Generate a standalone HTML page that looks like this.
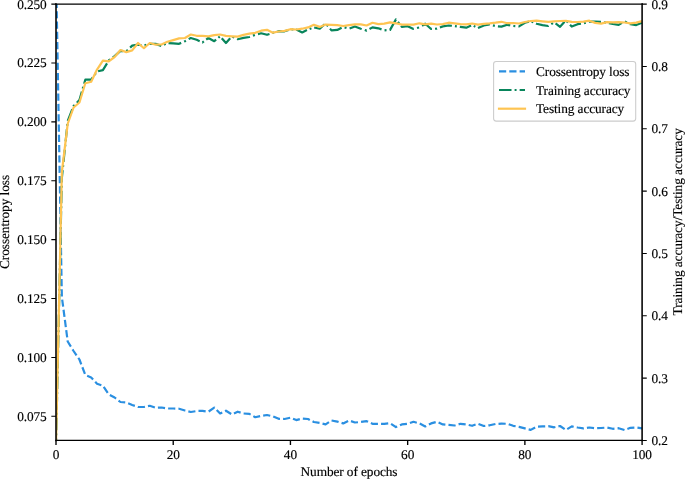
<!DOCTYPE html>
<html><head><meta charset="utf-8"><title>Training curves</title>
<style>html,body{margin:0;padding:0;background:#fff;}svg{display:block;}text{font-family:"Liberation Serif","Times New Roman",serif;font-size:13.33px;fill:#000;text-rendering:geometricPrecision;letter-spacing:-0.1px;stroke:#000;stroke-width:0.15px;}</style></head><body>
<svg width="685" height="479" viewBox="0 0 685 479">
<rect width="685" height="479" fill="#fff"/>
<defs><clipPath id="ax"><rect x="56.0" y="4.1" width="586.1" height="436.34999999999997"/></clipPath></defs>
<g clip-path="url(#ax)" fill="none" stroke-linejoin="round">
<polyline points="56.00,-30.00 61.86,297.00 67.72,341.50 73.58,351.00 79.44,359.50 85.31,375.00 91.17,377.50 97.03,383.75 102.89,385.75 108.75,394.50 114.61,397.50 120.47,402.00 126.33,402.50 132.19,405.00 138.05,407.00 143.92,407.00 149.78,405.75 155.64,407.75 161.50,407.50 167.36,408.50 173.22,408.50 179.08,408.75 184.94,410.50 190.80,412.00 196.66,411.00 202.53,410.90 208.39,411.70 214.25,407.60 220.11,413.50 225.97,410.70 231.83,414.40 237.69,411.70 243.55,413.50 249.41,413.90 255.27,417.20 261.13,415.90 267.00,415.00 272.86,416.30 278.72,418.80 284.58,419.00 290.44,417.70 296.30,420.10 302.16,418.50 308.02,419.00 313.88,422.00 319.75,422.90 325.61,424.40 331.47,420.50 337.33,421.60 343.19,423.40 349.05,420.50 354.91,422.50 360.77,422.00 366.63,421.20 372.49,423.80 378.36,423.80 384.22,423.80 390.08,423.10 395.94,427.10 401.80,424.40 407.66,423.80 413.52,421.80 419.38,423.40 425.24,426.40 431.10,423.40 436.96,421.80 442.83,424.40 448.69,424.90 454.55,425.50 460.41,423.80 466.27,424.40 472.13,425.80 477.99,423.70 483.85,426.00 489.71,425.30 495.57,424.00 501.44,423.60 507.30,423.80 513.16,425.80 519.02,426.90 524.88,428.40 530.74,429.90 536.60,426.60 542.46,426.40 548.32,426.20 554.18,427.30 560.05,426.00 565.91,429.90 571.77,426.40 577.63,427.50 583.49,428.40 589.35,427.50 595.21,428.20 601.07,428.00 606.93,427.50 612.79,428.80 618.66,428.20 624.52,430.00 630.38,427.80 636.24,427.50 642.10,428.40" stroke="#2a8fe1" stroke-width="2.2" stroke-dasharray="7.2 3.1"/>
<polyline points="56.00,445.00 61.86,178.00 67.72,121.00 73.58,106.00 79.44,100.00 84.13,83.76" stroke="#08855b" stroke-width="2.2" stroke-dasharray="12.5 3.1 1.95 3.1" stroke-dashoffset="5.94"/>
<polyline points="84.13,83.76 85.31,79.70 91.17,79.70 97.03,71.50 102.89,70.10 108.75,60.50 114.61,56.10 120.47,50.90 126.33,51.40 130.14,47.63" stroke="#08855b" stroke-width="2.2" stroke-dasharray="12.88 3.19 2.01 3.19"/>
<polyline points="130.14,47.63 132.19,45.60 138.05,44.70 143.92,45.60 149.78,43.90 155.64,43.90 161.50,46.00 167.36,43.00 168.53,43.06" stroke="#08855b" stroke-width="2.2" stroke-dasharray="12.32 3.05 1.92 3.05"/>
<polyline points="168.53,43.06 173.22,43.30 179.08,43.80 184.94,41.20 188.69,39.15" stroke="#08855b" stroke-width="2.2" stroke-dasharray="12.87 3.19 2.01 3.19"/>
<polyline points="188.69,39.15 190.80,38.00 196.66,39.80 202.53,42.40 208.39,38.00 214.25,41.20 220.11,36.30 221.75,38.18" stroke="#08855b" stroke-width="2.2" stroke-dasharray="11.83 2.93 1.85 2.93"/>
<polyline points="221.75,38.18 225.97,43.00 231.83,36.40 237.10,38.92" stroke="#08855b" stroke-width="2.2" stroke-dasharray="12.76 3.16 1.99 3.16"/>
<polyline points="237.10,38.92 237.69,39.20 243.55,37.90 249.41,37.00 255.27,34.70 257.97,34.06" stroke="#08855b" stroke-width="2.2" stroke-dasharray="13.11 3.25 2.04 3.25"/>
<polyline points="257.97,34.06 261.13,33.30 267.00,34.80 272.86,32.80 278.72,31.20 284.58,31.30 290.44,29.50 296.30,29.50 302.16,32.50 308.02,29.50 313.88,27.40 314.18,27.46" stroke="#08855b" stroke-width="2.2" stroke-dasharray="11.93 2.96 1.86 2.96"/>
<polyline points="314.18,27.46 319.75,28.70 325.61,23.40 330.00,28.65" stroke="#08855b" stroke-width="2.2" stroke-dasharray="12.38 3.07 1.93 3.07"/>
<polyline points="330.00,28.65 331.47,30.40 337.33,29.90 343.19,26.90 349.05,28.70 354.91,26.40 360.77,28.70 366.63,30.60 369.50,29.03" stroke="#08855b" stroke-width="2.2" stroke-dasharray="12.99 3.22 2.03 3.22"/>
<polyline points="369.50,29.03 372.49,27.40 378.36,28.30 384.22,30.30 389.67,29.93" stroke="#08855b" stroke-width="2.2" stroke-dasharray="12.71 3.15 1.98 3.15"/>
<polyline points="389.67,29.93 390.08,29.90 395.94,19.40 401.04,25.84" stroke="#08855b" stroke-width="2.2" stroke-dasharray="12.50 3.10 1.95 3.10"/>
<polyline points="401.04,25.84 401.80,26.80 407.66,26.20 413.52,29.00 419.38,27.40 422.02,25.73" stroke="#08855b" stroke-width="2.2" stroke-dasharray="13.81 3.42 2.15 3.42"/>
<polyline points="422.02,25.73 425.24,23.70 431.10,29.00 436.96,28.60 439.90,27.50" stroke="#08855b" stroke-width="2.2" stroke-dasharray="12.54 3.11 1.96 3.11"/>
<polyline points="439.90,27.50 442.83,26.40 448.69,25.50 454.55,26.00 459.82,26.81" stroke="#08855b" stroke-width="2.2" stroke-dasharray="12.28 3.04 1.91 3.04"/>
<polyline points="459.82,26.81 460.41,26.90 466.27,27.70 472.13,25.10 477.99,28.00" stroke="#08855b" stroke-width="2.2" stroke-dasharray="11.78 2.92 1.84 2.92"/>
<polyline points="477.99,28.00 483.85,25.50 489.71,24.50 495.57,26.10 497.92,26.30" stroke="#08855b" stroke-width="2.2" stroke-dasharray="12.56 3.11 1.96 3.11"/>
<polyline points="497.92,26.30 501.44,26.60 507.30,24.80 513.16,26.00 518.43,26.36" stroke="#08855b" stroke-width="2.2" stroke-dasharray="12.67 3.14 1.98 3.14"/>
<polyline points="518.43,26.36 519.02,26.40 524.88,22.70 530.74,21.20 536.02,23.54" stroke="#08855b" stroke-width="2.2" stroke-dasharray="11.71 2.90 1.83 2.90"/>
<polyline points="536.02,23.54 536.60,23.80 542.46,25.10 548.32,26.00 554.18,22.30 555.59,23.38" stroke="#08855b" stroke-width="2.2" stroke-dasharray="12.88 3.19 2.01 3.19"/>
<polyline points="555.59,23.38 560.05,26.80 565.91,20.20 570.01,24.68" stroke="#08855b" stroke-width="2.2" stroke-dasharray="12.42 3.08 1.94 3.08"/>
<polyline points="570.01,24.68 571.77,26.60 577.63,24.20 583.49,23.40 589.35,21.50 595.21,21.70 601.07,21.80 606.93,22.80 608.87,23.20" stroke="#08855b" stroke-width="2.2" stroke-dasharray="12.31 3.05 1.92 3.05"/>
<polyline points="608.87,23.20 612.79,24.00 618.66,24.90 624.52,21.30 629.91,23.97" stroke="#08855b" stroke-width="2.2" stroke-dasharray="13.82 3.43 2.16 3.43"/>
<polyline points="629.91,23.97 630.38,24.20 636.24,25.10 642.10,22.70" stroke="#08855b" stroke-width="2.2" stroke-dasharray="12.50 3.10 1.95 3.10"/>
<polyline points="56.00,445.00 61.86,172.00 67.72,123.75 73.58,107.50 79.44,102.50 85.31,83.30 91.17,81.80 97.03,69.60 102.89,60.60 108.75,61.40 114.61,57.00 120.47,50.00 126.33,52.10 132.19,50.40 138.05,43.00 143.92,48.20 149.78,43.00 155.64,44.70 161.50,44.50 167.36,41.80 173.22,40.10 179.08,38.40 184.94,38.00 190.80,34.50 196.66,35.80 202.53,35.80 208.39,36.30 214.25,35.10 220.11,34.50 225.97,35.90 231.83,36.30 237.69,36.60 243.55,34.90 249.41,33.70 255.27,32.80 261.13,30.70 267.00,29.80 272.86,32.70 278.72,31.50 284.58,30.90 290.44,29.20 296.30,29.50 302.16,28.70 308.02,27.40 313.88,24.80 319.75,26.90 325.61,24.60 331.47,24.80 337.33,25.10 343.19,26.00 349.05,25.10 354.91,24.30 360.77,24.40 366.63,25.50 372.49,22.80 378.36,24.10 384.22,23.60 390.08,22.40 395.94,23.30 401.80,24.60 407.66,24.50 413.52,24.60 419.38,23.30 425.24,24.30 431.10,23.70 436.96,24.50 442.83,24.10 448.69,22.70 454.55,23.30 460.41,24.20 466.27,24.40 472.13,23.50 477.99,24.60 483.85,23.80 489.71,23.40 495.57,22.70 501.44,21.80 507.30,23.20 513.16,23.00 519.02,23.50 524.88,22.00 530.74,21.00 536.60,20.70 542.46,21.30 548.32,21.80 554.18,21.30 560.05,21.00 565.91,20.80 571.77,21.80 577.63,22.00 583.49,21.70 589.35,20.70 595.21,22.90 601.07,23.60 606.93,22.10 612.79,22.30 618.66,22.10 624.52,22.50 630.38,23.40 636.24,22.60 642.10,21.10" stroke="#fec452" stroke-width="2.2"/>
</g>
<path d="M51.33 4.10H56.0M51.33 62.99H56.0M51.33 121.87H56.0M51.33 180.76H56.0M51.33 239.64H56.0M51.33 298.53H56.0M51.33 357.41H56.0M51.33 416.30H56.0M642.1 4.10H646.77M642.1 66.44H646.77M642.1 128.77H646.77M642.1 191.11H646.77M642.1 253.44H646.77M642.1 315.78H646.77M642.1 378.11H646.77M642.1 440.45H646.77" stroke="#000" stroke-width="1.07" fill="none"/>
<path d="M56.00 440.45V445.12M173.22 440.45V445.12M290.44 440.45V445.12M407.66 440.45V445.12M524.88 440.45V445.12M642.10 440.45V445.12" stroke="#000" stroke-width="1.35" fill="none"/>
<path d="M56.0 4.1V440.45M642.1 4.1V440.45" stroke="#000" stroke-width="1.55" fill="none" stroke-linecap="square"/>
<path d="M56.0 4.1H642.1M56.0 440.45H642.1" stroke="#000" stroke-width="1.3" fill="none" stroke-linecap="square"/>
<text x="46.70" y="8.60" text-anchor="end">0.250</text>
<text x="46.70" y="67.49" text-anchor="end">0.225</text>
<text x="46.70" y="126.37" text-anchor="end">0.200</text>
<text x="46.70" y="185.26" text-anchor="end">0.175</text>
<text x="46.70" y="244.14" text-anchor="end">0.150</text>
<text x="46.70" y="303.03" text-anchor="end">0.125</text>
<text x="46.70" y="361.91" text-anchor="end">0.100</text>
<text x="46.70" y="420.80" text-anchor="end">0.075</text>
<text x="651.50" y="8.60">0.9</text>
<text x="651.50" y="70.94">0.8</text>
<text x="651.50" y="133.27">0.7</text>
<text x="651.50" y="195.61">0.6</text>
<text x="651.50" y="257.94">0.5</text>
<text x="651.50" y="320.28">0.4</text>
<text x="651.50" y="382.61">0.3</text>
<text x="651.50" y="444.95">0.2</text>
<text x="56.00" y="458.6" text-anchor="middle">0</text>
<text x="173.22" y="458.6" text-anchor="middle">20</text>
<text x="290.44" y="458.6" text-anchor="middle">40</text>
<text x="407.66" y="458.6" text-anchor="middle">60</text>
<text x="524.88" y="458.6" text-anchor="middle">80</text>
<text x="642.10" y="458.6" text-anchor="middle">100</text>
<text x="349.0" y="475.8" text-anchor="middle">Number of epochs</text>
<text transform="translate(9.2 222.0) rotate(-90)" text-anchor="middle" style="letter-spacing:-0.065px">Crossentropy loss</text>
<text transform="translate(682.1 221.8) rotate(-90)" text-anchor="middle" style="letter-spacing:-0.07px">Training accuracy/Testing accuracy</text>
<rect x="493.6" y="61.5" width="142.1" height="59.6" rx="2.6" ry="2.6" fill="#fff" fill-opacity="0.8" stroke="#cccccc" stroke-width="1.07"/>
<line x1="499" y1="71.4" x2="525" y2="71.4" stroke="#2a8fe1" stroke-width="2.2" stroke-dasharray="7.2 3.1"/>
<text x="536" y="76.00">Crossentropy loss</text>
<line x1="499" y1="90.0" x2="525" y2="90.0" stroke="#08855b" stroke-width="2.2" stroke-dasharray="12.5 3.1 1.95 3.1"/>
<text x="536" y="94.60">Training accuracy</text>
<line x1="499" y1="108.7" x2="525" y2="108.7" stroke="#fec452" stroke-width="2.2" stroke-linecap="square"/>
<text x="536" y="113.30">Testing accuracy</text>
</svg></body></html>
